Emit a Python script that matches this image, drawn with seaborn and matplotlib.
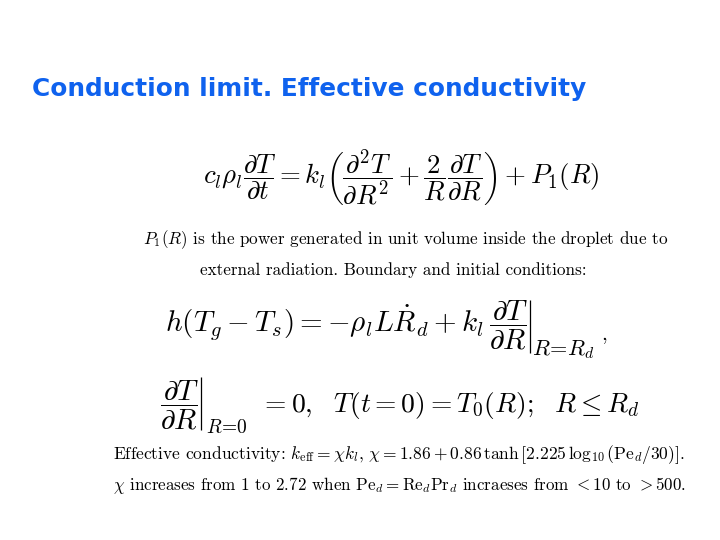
import matplotlib
matplotlib.use("Agg")
import matplotlib.pyplot as plt
import seaborn as sns

# slide content
title = "Conduction limit. Effective conductivity"
eq_heat = [
    r"$c_l\rho_l\dfrac{\partial T}{\partial t} = k_l\left(\dfrac{\partial^2 T}{\partial R^2} + \dfrac{2}{R}\dfrac{\partial T}{\partial R}\right) + P_1(R)$",
]
eq_surface = [
    r"$h(T_g - T_s) = -\rho_l L\dot{R}_d + k_l\,\dfrac{\partial T}{\partial R}$",
    "|",
    r"$R\!=\!R_d$",
    r"$,$",
]
eq_centre = [
    r"$\dfrac{\partial T}{\partial R}$",
    "|",
    r"$R\!=\!0$",
    r"$= 0,\ \ T(t=0) = T_0(R);\ \ R \leq R_d$",
]
sentences = [
    r"$P_1(R)$ is the power generated in unit volume inside the droplet due to",
    r"external radiation. Boundary and initial conditions:",
    r"Effective conductivity: $k_{\mathrm{eff}} = \chi k_l$, $\chi = 1.86 + 0.86\,\tanh\left[2.225\,\log_{10}(\mathrm{Pe}_d/30)\right]$.",
    r"$\chi$ increases from 1 to 2.72 when $\mathrm{Pe}_d = \mathrm{Re}_d\mathrm{Pr}_d$ incraeses from $< 10$ to $> 500$.",
]

sns.set_theme(style="white")
plt.rcParams["mathtext.fontset"] = "cm"

fig = plt.figure(figsize=(7.2, 5.4), dpi=100)
ax = fig.add_axes([0, 0, 1, 1])
ax.set_xlim(0, 720)
ax.set_ylim(540, 0)
ax.axis("off")
renderer = fig.canvas.get_renderer()
inv = ax.transData.inverted()


def draw_row(x, pieces, layout):
    # pieces follow one another; "|" is the evaluation bar
    for txt, (a, b, gap) in zip(pieces, layout):
        if txt == "|":
            x = x + gap
            ax.vlines(x, a, b, color="black", lw=0.9)
            continue
        t = ax.text(x + gap, a, txt, fontsize=b, va="baseline", ha="left",
                    color="black")
        bb = t.get_window_extent(renderer)
        x = inv.transform((bb.x1, bb.y0))[0]


# title
ax.text(32, 89, title, fontsize=17.8, fontweight="bold", color="#0f62ee",
        family="DejaVu Sans", va="center", ha="left")

# equations: (baseline, fontsize, gap) or for the bar (top, bottom, gap)
draw_row(203, eq_heat, [(184, 19.3, 0)])
draw_row(165, eq_surface, [(332, 21, 0), (300, 353, 2), (355, 16, 2), (340, 15, 6)])
draw_row(160, eq_centre, [(412, 21, 0), (377, 430, 2), (433, 14, 5), (412, 19.8, 12)])

# running text
txt_pos = [(143, 244, 12.3), (200, 275, 12.3), (113, 459, 12.55), (113, 490, 12.25)]
for txt, (x, y, fs) in zip(sentences, txt_pos):
    ax.text(x, y, txt, fontsize=fs, va="baseline", ha="left", color="black",
            family="cmr10")

fig.savefig("out.png", dpi=100, facecolor="white")
